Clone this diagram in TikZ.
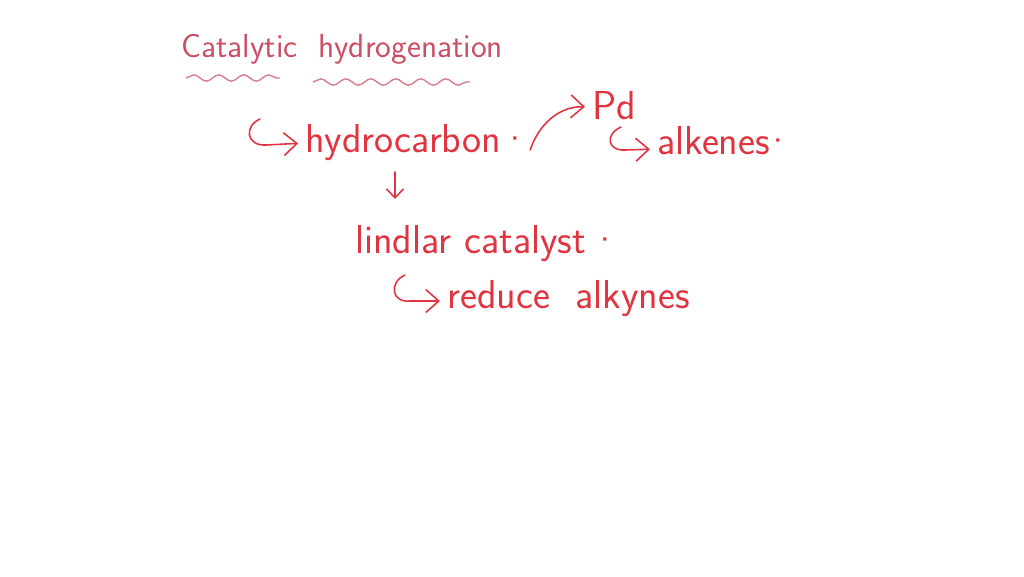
\documentclass[tikz,border=0pt]{standalone}
\usepackage{tikz}
\usetikzlibrary{arrows.meta, calc, positioning, decorations.pathmorphing}
\definecolor{inkred}{RGB}{224,52,64}
\definecolor{inkpink}{RGB}{204,80,100}

\begin{document}
\begin{tikzpicture}[
  x=0.02cm, y=-0.02cm,
  every node/.style={inner sep=0pt, anchor=base west},
  note/.style={text=inkred, font=\sffamily\fontsize{23}{26}\selectfont},
  heading/.style={text=inkpink, font=\sffamily\fontsize{19}{22}\selectfont},
  link/.style={draw=inkred, line width=0.9pt, line cap=round, shorten >=4pt, -{Straight Barb[length=2.6mm, width=4.6mm]}},
  squiggle/.style={draw=inkpink!75, line width=0.8pt, decorate, decoration={snake, amplitude=1.8pt, segment length=5mm}}
]
\useasboundingbox (0,0) rectangle (1024,576);

% title
\node[heading] (title) at (181,57) {Catalytic\ \ hydrogenation};
\draw[squiggle] (186,78) -- (280,78);
\draw[squiggle] (313,82) -- (470,82);

% main line
\node[note] (hc) at (305,152) {hydrocarbon};
\node[note] (hcdot) at (500,152) {·};
\coordinate (hs1) at (260,119);
\draw[link] (hs1) .. controls (244,126) and (246,146) .. (266,145) -- (hc.west |- 0,143);

\node[note] (pd) at (592,119) {Pd};
\draw[link] (hcdot.east |- 0,150) .. controls (538,126) and (558,106) .. (pd.west |- 0,107);

\node[note] (ak) at (657,154) {alkenes};
\node[note] (akdot) at (763,154) {·};
\coordinate (hs2) at (621,127);
\draw[link] (hs2) .. controls (605,134) and (607,151) .. (625,150) -- (ak.west |- 0,149);

% lindlar branch
\coordinate (d1) at (395,172);
\coordinate (d2) at (395,199);
\draw[link, shorten >=0pt, -{Straight Barb[length=1.8mm, width=3.4mm]}] (d1) -- (d2);

\node[note] (lc) at (355,253) {lindlar\ catalyst};
\node[note] (lcdot) at (590,253) {·};
\node[note] (ra) at (447,308) {reduce\ \ alkynes};
\coordinate (hs3) at (405,275);
\draw[link] (hs3) .. controls (389,282) and (391,303) .. (410,301) -- (ra.west |- 0,301);
\end{tikzpicture}
\end{document}
